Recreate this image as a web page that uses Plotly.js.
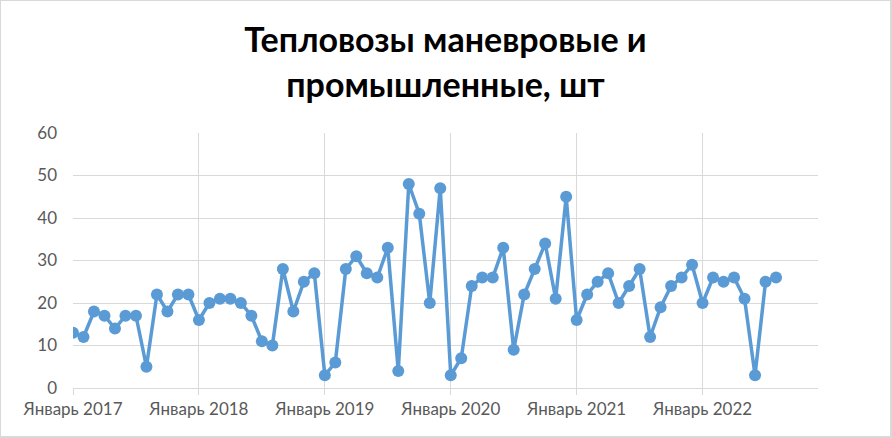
<!DOCTYPE html>
<html>
<head>
<meta charset="utf-8">
<script src="https://cdn.plot.ly/plotly-3.0.1.min.js"></script>
<style>
html, body { margin: 0; padding: 0; background: #fff; }
#chart { width: 892px; height: 438px; box-sizing: border-box; border: 1px solid #d9d9d9; border-right-width: 2px; border-bottom-width: 2px; }
</style>
</head>
<body>
<div id="chart"></div>
<script>
// Monthly values, January 2017 onwards
const values2017 = [13, 12, 18, 17, 14, 17, 17, 5, 22, 18, 22, 22];
const values2018 = [16, 20, 21, 21, 20, 17, 11, 10, 28, 18, 25, 27];
const values2019 = [3, 6, 28, 31, 27, 26, 33, 4, 48, 41, 20, 47];
const values2020 = [3, 7, 24, 26, 26, 33, 9, 22, 28, 34, 21, 45];
const values2021 = [16, 22, 25, 27, 20, 24, 28, 12, 19, 24, 26, 29];
const values2022 = [20, 26, 25, 26, 21, 3, 25, 26];

const yearLabels = ['Январь 2017', 'Январь 2018', 'Январь 2019', 'Январь 2020', 'Январь 2021', 'Январь 2022'];
const titleText = 'Тепловозы маневровые и<br>промышленные, шт';

const values = [].concat(values2017, values2018, values2019, values2020, values2021, values2022);
const monthIndex = values.map((_, i) => i);
const tickPositions = yearLabels.map((_, i) => i * 12);

const FONT = 'Lato, "Open Sans", sans-serif';

const trace = {
  x: monthIndex,
  y: values,
  type: 'scatter',
  mode: 'lines+markers',
  line: { color: '#5b9bd5', width: 3.5 },
  marker: { color: '#5b9bd5', size: 12 },
  hoverinfo: 'y'
};

const layout = {
  width: 889,
  height: 435,
  margin: { l: 72, r: 72, t: 132, b: 48 },
  paper_bgcolor: '#fff',
  plot_bgcolor: '#fff',
  showlegend: false,
  title: {
    text: titleText,
    font: { family: FONT, size: 34, color: '#000', weight: 'bold' },
    x: 0.5, xanchor: 'center',
    y: 0.882, yanchor: 'top', yref: 'container'
  },
  xaxis: {
    range: [0, 71],
    tickvals: tickPositions,
    ticktext: yearLabels,
    showgrid: true,
    gridcolor: '#d9d9d9',
    gridwidth: 1,
    zeroline: false,
    showline: true,
    linecolor: '#d9d9d9',
    linewidth: 1,
    ticks: 'outside',
    ticklen: 6,
    tickcolor: '#d9d9d9',
    tickfont: { family: FONT, size: 17, color: '#595959' }
  },
  yaxis: {
    range: [0, 60],
    dtick: 10,
    tick0: 0,
    showgrid: true,
    gridcolor: '#d9d9d9',
    gridwidth: 1,
    zeroline: false,
    showline: false,
    ticks: '',
    ticklabelstandoff: 15,
    tickfont: { family: FONT, size: 17, color: '#595959' }
  }
};

Plotly.newPlot('chart', [trace], layout, { displayModeBar: false, staticPlot: true });
</script>
</body>
</html>
